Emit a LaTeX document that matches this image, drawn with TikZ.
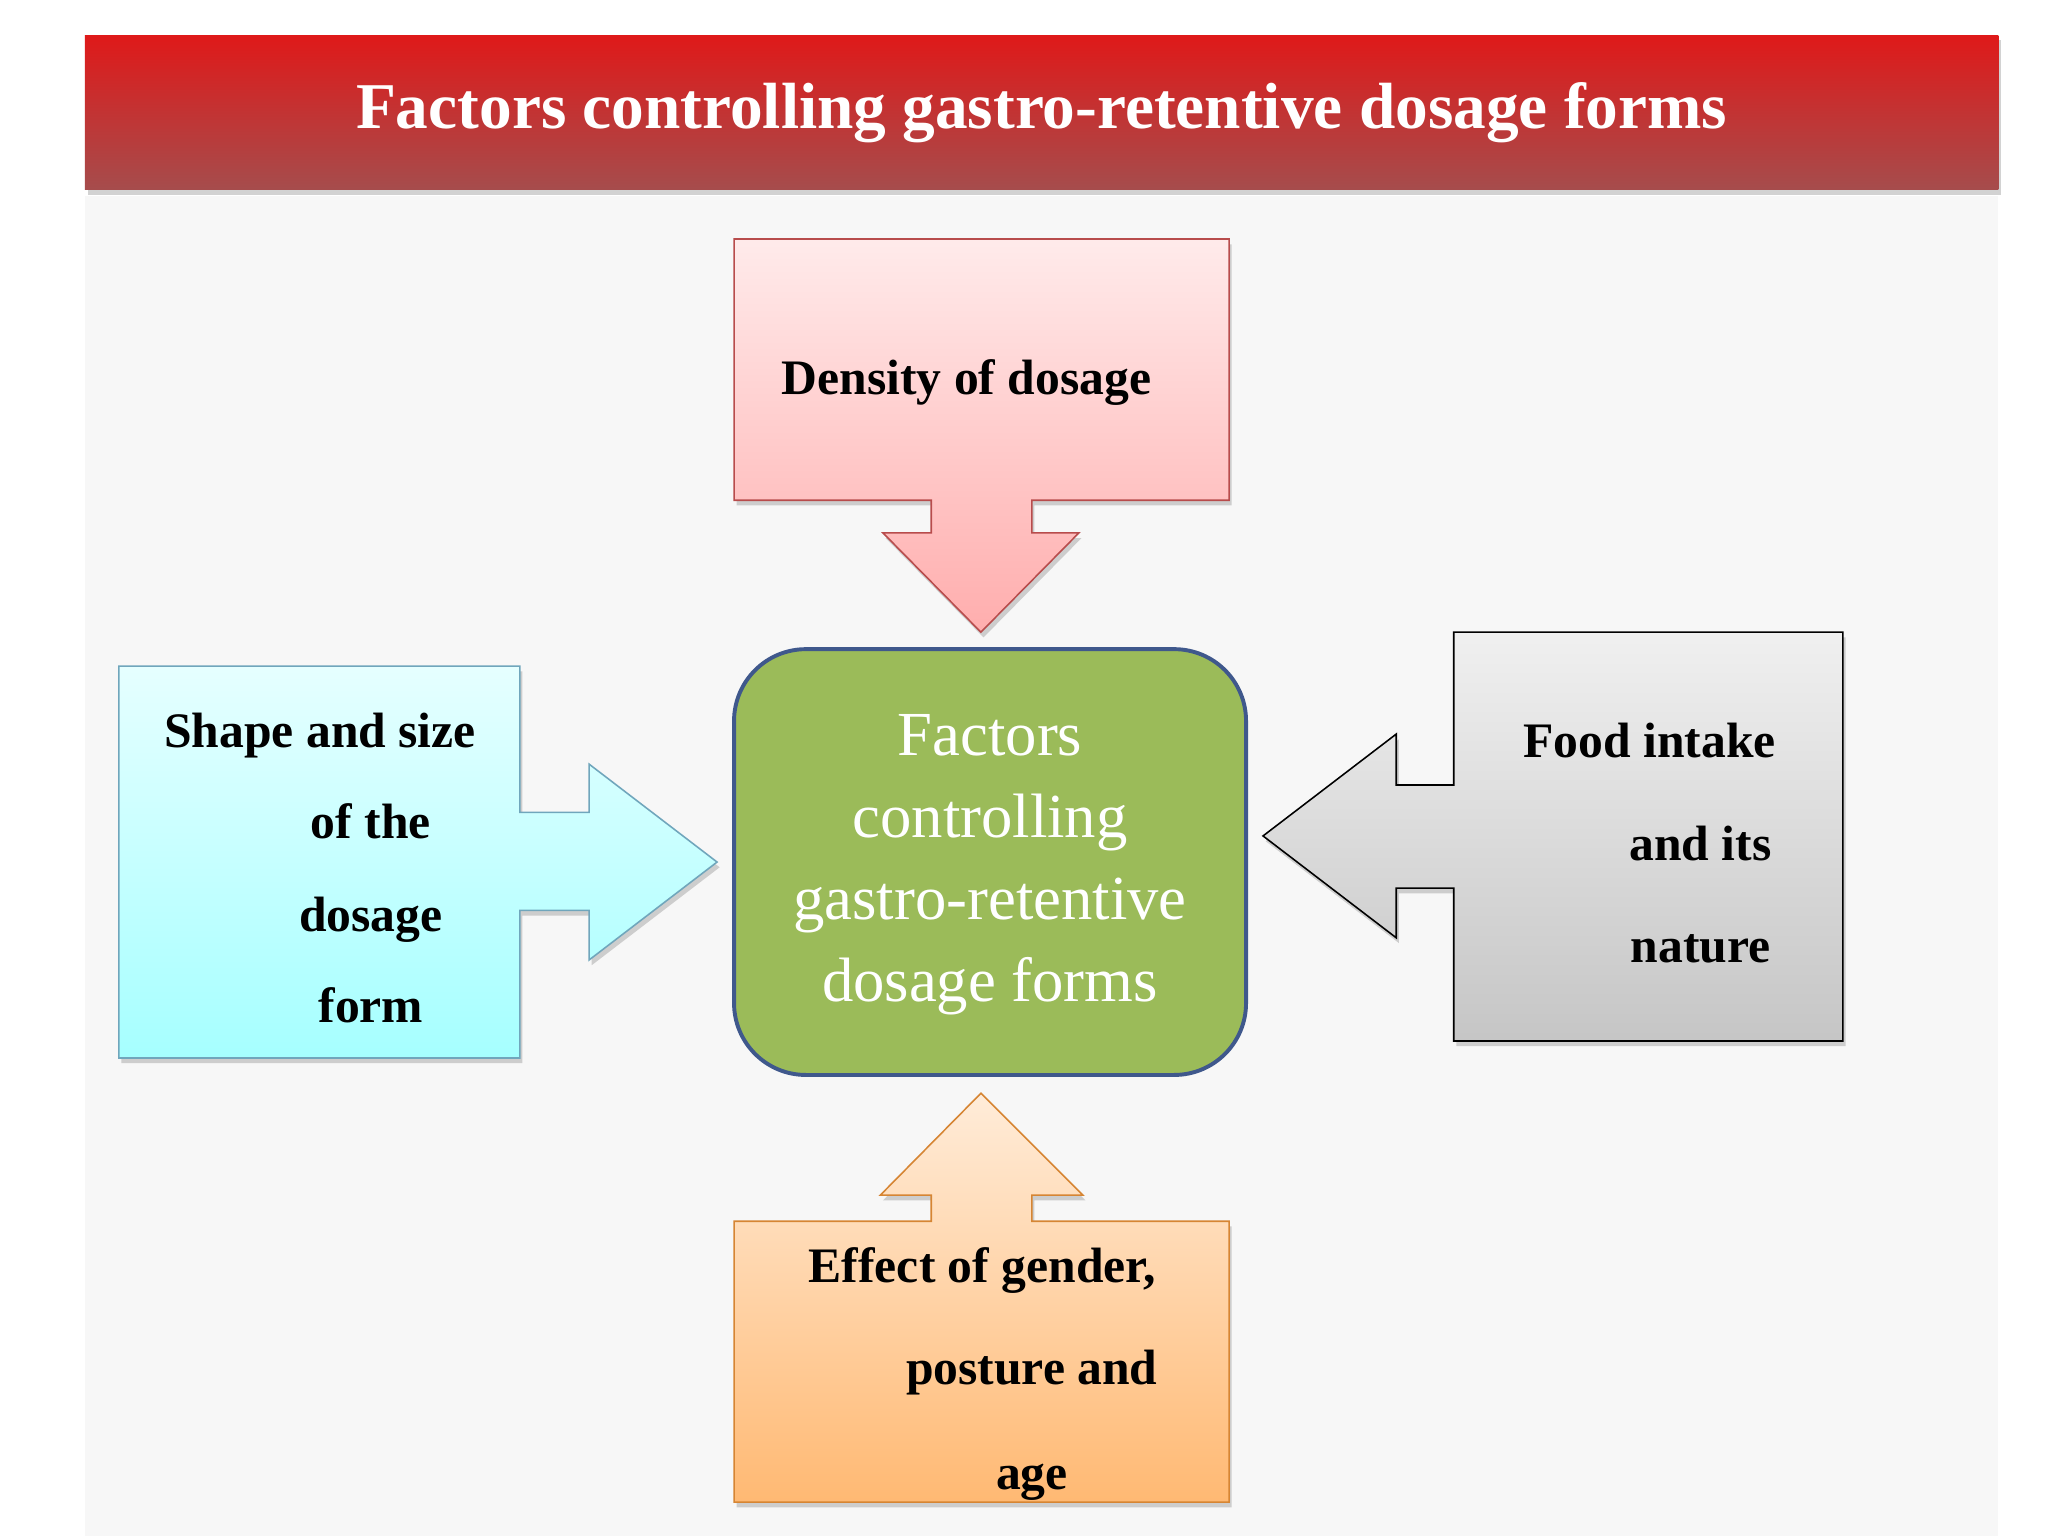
\documentclass[tikz,border=0pt]{standalone}
\usepackage{fontspec}
\setmainfont{Liberation Serif}
\usetikzlibrary{shadows}
\begin{document}
\begin{tikzpicture}[x=1pt,y=-1pt,
  lbl/.style={font=\fontsize{38}{40}\selectfont\bfseries,text=black,inner sep=0pt,anchor=base},
  shd/.style={drop shadow={shadow xshift=2pt,shadow yshift=-4pt,opacity=0.35,fill=gray}}]
\useasboundingbox[fill=white] (0,0) rectangle (1568,1176);
\fill[gray!6] (65,150) rectangle (1530,1176);
% title
\node[shd,draw=none,top color=red!65!black!40!red!90,bottom color=red!50!black!70,
  minimum width=1465pt,minimum height=118pt,inner sep=0pt] (title) at (797.5,86)
  {\fontsize{50}{52}\selectfont\bfseries\color{white}Factors controlling gastro-retentive dosage forms};
% top callout
\draw[shd,draw=red!60!black!70,line width=1.2pt,top color=red!8,bottom color=red!32]
 (562,183)--(941,183)--(941,383)--(790,383)--(790,408)--(826,408)--(751,484)--(676,408)--(713,408)--(713,383)--(562,383)--cycle;
% left callout
\draw[shd,draw=cyan!60!black!70,line width=1.2pt,top color=cyan!10,bottom color=cyan!35]
 (91,510)--(398,510)--(398,622)--(451,622)--(451,585)--(549,660)--(451,735)--(451,697)--(398,697)--(398,810)--(91,810)--cycle;
% right callout
\draw[shd,draw=black,line width=1.2pt,top color=gray!12,bottom color=gray!45]
 (1113,484)--(1411,484)--(1411,797)--(1113,797)--(1113,680)--(1069,680)--(1069,718)--(967,640)--(1069,562)--(1069,601)--(1113,601)--cycle;
% bottom callout
\draw[shd,draw=orange!80!black!80,line width=1.2pt,top color=orange!15,bottom color=orange!55]
 (562,935)--(713,935)--(713,915)--(674,915)--(751,837)--(829,915)--(790,915)--(790,935)--(941,935)--(941,1150)--(562,1150)--cycle;
% centre
\node[draw={rgb,255:red,63;green,88;blue,140},line width=3pt,fill={rgb,255:red,155;green,187;blue,89},
  rounded corners=55pt,minimum width=392pt,minimum height=326pt] (c) at (758,660) {};
\node[text=white,align=center,font=\fontsize{48}{63}\selectfont] (ct) at (758,662)
  {Factors\\controlling\\gastro-retentive\\dosage forms};
% labels
\node[lbl] (t1) at (740,302) {Density of dosage};
\node[lbl] (l1) at (245,572) {Shape and size};
\node[lbl] (l2) at (284,642) {of the};
\node[lbl] (l3) at (284,713) {dosage};
\node[lbl] (l4) at (284,783) {form};
\node[lbl] (r1) at (1263,580) {Food intake};
\node[lbl] (r2) at (1302,659) {and its};
\node[lbl] (r3) at (1302,737) {nature};
\node[lbl] (b1) at (752,982) {Effect of gender,};
\node[lbl] (b2) at (790,1060) {posture and};
\node[lbl] (b3) at (790,1140) {age};
\end{tikzpicture}
\end{document}
